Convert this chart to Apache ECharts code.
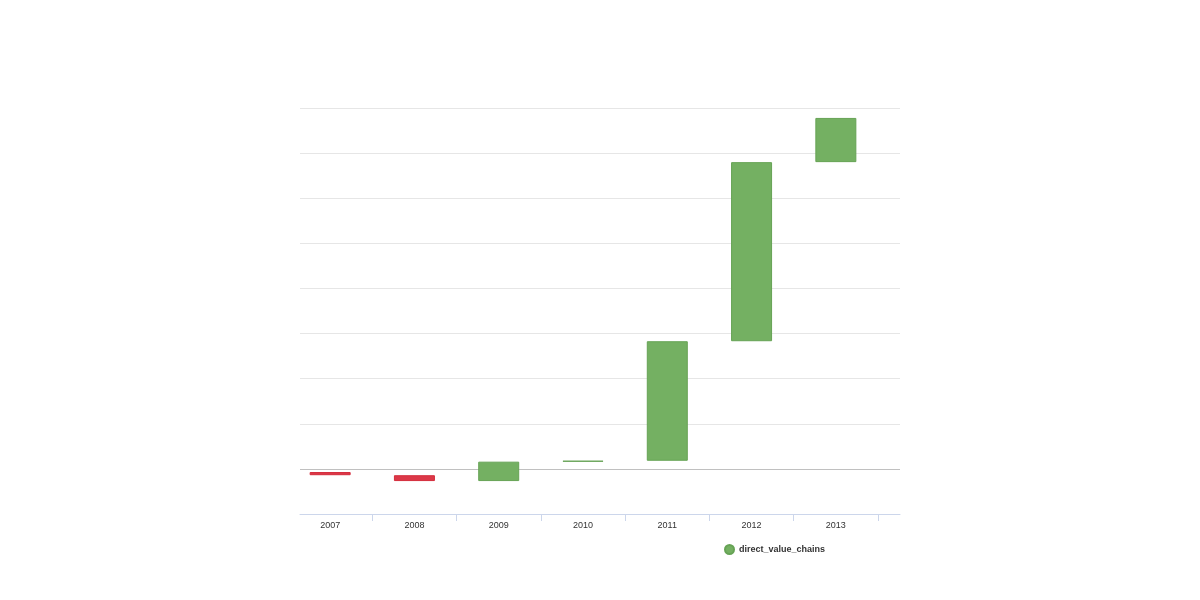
<!DOCTYPE html>
<html>
<head>
<meta charset="utf-8">
<script src="https://cdn.jsdelivr.net/npm/echarts@6/dist/echarts.min.js"></script>
<style>
  html, body { margin: 0; padding: 0; background: #fff; }
  #chart { width: 1200px; height: 600px; }
</style>
</head>
<body>
<div id="chart"></div>
<script>
// data
var categories = ['2007', '2008', '2009', '2010', '2011', '2012', '2013'];
var startValues = [-7, -14, -27, 16, 18, 283, 680];
var endValues   = [-14, -27, 16, 18, 283, 680, 778];
var yTicks = [-100, 0, 100, 200, 300, 400, 500, 600, 700, 800];

var upColor = '#74b062';
var downColor = '#dc3848';

// waterfall: invisible base bar + visible span stacked on it
var lows = [];
var spans = [];
for (var i = 0; i < categories.length; i++) {
    var lo = Math.min(startValues[i], endValues[i]);
    var hi = Math.max(startValues[i], endValues[i]);
    lows.push(lo);
    var down = endValues[i] < startValues[i];
    spans.push({
        value: hi - lo,
        itemStyle: down ? { color: downColor, borderColor: '#d42c3c' } : undefined
    });
}

var chart = echarts.init(document.getElementById('chart'));

var yMin = yTicks[0], yMax = yTicks[yTicks.length - 1];

var option = {
    backgroundColor: '#fff',
    animation: false,
    grid: [
        { left: 300, right: 300, top: 108, bottom: 86 },
        { left: 288, right: 322, top: 108, bottom: 86 }
    ],
    legend: {
        data: ['direct_value_chains'],
        icon: 'circle',
        left: 724,
        top: 544,
        padding: 0,
        itemWidth: 9,
        itemHeight: 9,
        itemGap: 5,
        textStyle: { color: '#333', fontSize: 9, fontWeight: 'bold', fontFamily: 'Liberation Sans' }
    },
    xAxis: [
        {
            gridIndex: 0, type: 'value', min: 0, max: 1,
            axisLine: { show: true, onZero: false, lineStyle: { color: '#ccd6eb' } },
            axisTick: { show: false }, axisLabel: { show: false }, splitLine: { show: false }
        },
        {
            gridIndex: 1, type: 'category', data: categories,
            axisLine: { show: false, onZero: false },
            axisTick: {
                show: true, length: 7,
                interval: function (i) { return i > 0; },
                lineStyle: { color: '#ccd6eb' }
            },
            axisLabel: { color: '#333', fontSize: 9, margin: 7, fontFamily: 'Liberation Sans', interval: 0 }
        }
    ],
    yAxis: [
        {
            gridIndex: 0, type: 'value', min: yMin, max: yMax, interval: 100,
            axisLine: { show: false }, axisTick: { show: false }, axisLabel: { show: false },
            splitLine: {
                show: true,
                lineStyle: {
                    color: yTicks.map(function (t) { return t === 0 ? '#c0c0c0' : '#e6e6e6'; })
                }
            }
        },
        {
            gridIndex: 1, type: 'value', min: yMin, max: yMax, interval: 100,
            show: false
        }
    ],
    series: [
        {
            name: 'base',
            type: 'bar',
            xAxisIndex: 1, yAxisIndex: 1,
            stack: 'w', stackStrategy: 'all',
            barWidth: 41,
            silent: true,
            itemStyle: { color: 'transparent', borderColor: 'transparent' },
            data: lows
        },
        {
            name: 'direct_value_chains',
            type: 'bar',
            xAxisIndex: 1, yAxisIndex: 1,
            stack: 'w', stackStrategy: 'all',
            barWidth: 41,
            itemStyle: { color: upColor, borderColor: '#66a355', borderWidth: 1 },
            data: spans
        }
    ]
};

chart.setOption(option);
</script>
</body>
</html>
